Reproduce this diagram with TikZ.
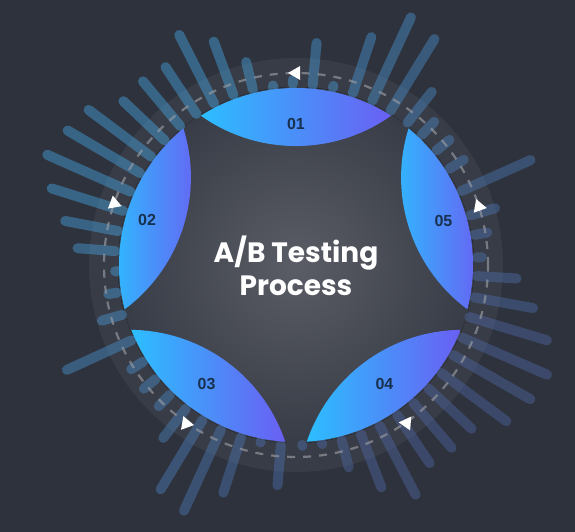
\documentclass[tikz,border=0pt]{standalone}
\usepackage{fontspec}
\setmainfont{Poppins}
\newfontfamily\numfont{Liberation Sans}
\usetikzlibrary{positioning,shapes.geometric}

\definecolor{bgdark}{HTML}{2E323C}
\definecolor{ringgray}{HTML}{383C46}
\definecolor{glowgray}{HTML}{5A5D65}
\definecolor{lenscyan}{HTML}{2CBEFF}
\definecolor{lensmid}{HTML}{36AEFE}
\definecolor{lenspurple}{HTML}{6A5FF3}
\definecolor{barteal}{HTML}{48AEEE}
\definecolor{barviolet}{HTML}{5068A8}
\definecolor{numnavy}{HTML}{17314F}
\definecolor{dashgray}{HTML}{9A9CA2}

\tikzset{
  lens/.style={left color=lenscyan, middle color=lensmid, right color=lenspurple},
  bar/.style={line width=10pt, line cap=round, opacity=0.42},
  tri/.style={isosceles triangle, isosceles triangle apex angle=60, fill=white,
    inner sep=0pt, minimum height=12pt},
  num/.style={font=\numfont\bfseries\fontsize{16}{16}\selectfont, text=numnavy},
}

\begin{document}
\begin{tikzpicture}[x=1pt,y=1pt]
  \useasboundingbox (-296,-267) rectangle (279,265);
  \fill[bgdark] (-296,-267) rectangle (279,265);
  \fill[ringgray] (0,0) circle[radius=207];
  \fill[inner color=glowgray, outer color=ringgray] (0,0) circle[radius=178];

  % rays
  \foreach \a/\r in {2.4/191, 9.6/199, 15.9/212, 24.1/262, 32.1/203, 39.2/203,
      46/204, 51.9/225, 58.5/270, 65.1/278, 71.7/245, 78.2/188, 84.7/228,
      91/190, 97.3/183, 103.8/214, 110.2/243, 116.9/263, 123.4/242, 129.8/244,
      136.5/243, 143.2/264, 149.5/270, 156.1/277, 162.6/261, 169.2/240,
      175.6/224, 182/183, 188.8/195, 196/207, 204.6/257, 212.3/200, 219.1/201,
      225.8/202, 232.5/223, 238.9/267, 245.5/275, 252.3/244, 258.7/185,
      265.2/226, 272/185, 278.3/185, 284.6/214, 291/243, 297.5/264, 304/244,
      310.4/245, 317/245, 323.4/267, 330.2/275, 336.4/279, 343.3/267,
      349.7/246, 356.5/226}{
    \pgfmathtruncatemacro\p{50+50*cos(\a-135)}
    \pgfmathsetmacro\rr{\r-5}
    \draw[bar, color=barteal!\p!barviolet] (\a:181) -- (\a:\rr);
  }

  \draw[dashgray, line width=2.2pt, dash pattern=on 8pt off 8pt, opacity=0.65]
    (0,0) circle[radius=192];

  % petals
  \foreach \m in {90,162,234,306,18}{
    \shade[lens] ({\m+32.5}:177) arc[start angle=\m+32.5, end angle=\m-32.5, radius=177]
      arc[start angle=\m+215.35, end angle=\m+144.65, radius=164.4] -- cycle;
  }

  \node[num] (n1) at (90:141) {01};
  \node[num] (n2) at (163.3:155.5) {02};
  \node[num] (n3) at (233:148.5) {03};
  \node[num] (n4) at (306.6:148.3) {04};
  \node[num] (n5) at (16.8:154) {05};

  \node[tri, rotate=180] (t1) at (90:192) {};
  \node[tri, rotate=-20] (t2) at (161.3:192) {};
  \node[tri, rotate=110] (t3) at (235.3:193) {};
  \node[tri, rotate=55] (t4) at (305:193) {};
  \node[tri, rotate=-10] (t5) at (17.7:192) {};

  \node[font=\bfseries\fontsize{28}{33}\selectfont, text=white, align=center]
    (title) at (0,-1) {A/B Testing\\Process};
\end{tikzpicture}
\end{document}
